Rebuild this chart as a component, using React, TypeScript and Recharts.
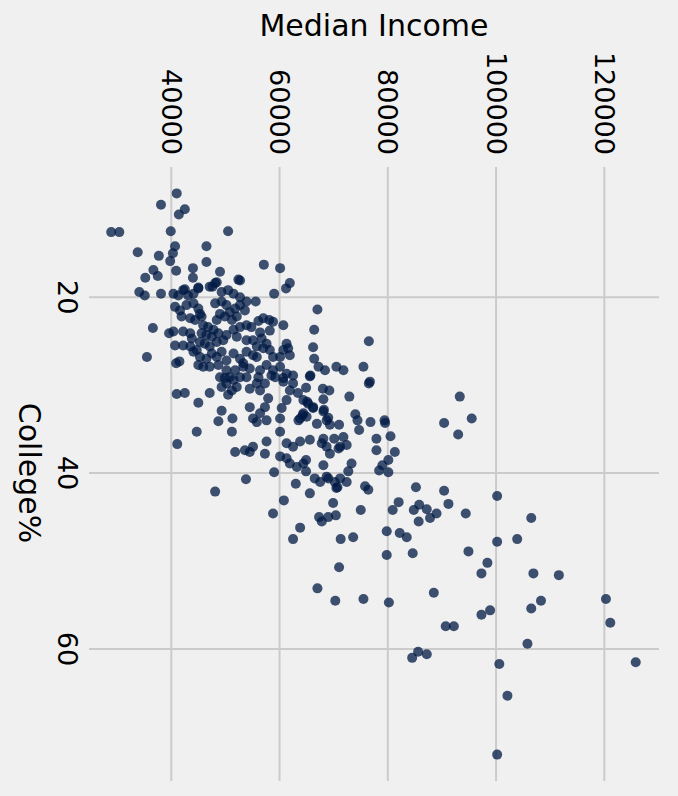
import React from 'react';
import { ScatterChart, Scatter, XAxis, YAxis, CartesianGrid, Label } from 'recharts';

// median household income (dollars)
const income = [
  41000, 38100, 42500, 41400, 28900, 30400, 39900, 50500, 33800, 40700, 46500, 37700, 40300, 39800, 46500,
  40900, 44000, 36700, 37500, 35200, 49000, 44000, 52400, 48400, 47600, 45000, 34100, 35100, 38100, 42500,
  36600, 35500, 39600, 40700, 40900, 41500, 40400, 41300, 42200, 43100, 44100, 45000, 47100, 48100, 49300,
  50500, 51500, 40700, 41600, 42800, 44100, 45000, 45300, 41900, 43500, 44400, 45600, 48100, 49300, 50200,
  50800, 51800, 52700, 53600, 52100, 51200, 49900, 49000, 48400, 45900, 46800, 47800, 45600, 46500, 47500,
  48700, 45300, 46200, 47100, 48400, 49600, 50200, 51500, 52700, 53900, 52100, 40400, 42200, 43500, 43800,
  44700, 45300, 46500, 47500, 48400, 49300, 50200, 51500, 52700, 53900, 55100, 53300, 51800, 50200, 48700,
  47100, 45900, 45000, 50800, 52700, 49000, 54800, 55100, 55800, 42200, 43500, 44100, 57100, 60100, 61900,
  61200, 59000, 52700, 55600, 53900, 52700, 67000, 56100, 57000, 58100, 58800, 60700, 56400, 58200, 66400,
  56700, 57600, 57000, 53900, 55800, 58200, 58800, 61300, 61600, 60700, 61900, 60100, 66200, 66400, 67200,
  68400, 70500, 71800, 53300, 54500, 56400, 57600, 58800, 60100, 61300, 62500, 53900, 56100, 58500, 60700,
  65700, 76500, 75500, 76700, 76500, 65600, 64900, 68000, 69200, 68100, 72900, 65100, 66200, 64300, 63800,
  68200, 69000, 74000, 74400, 76800, 79400, 79500, 66900, 71000, 74700, 93300, 90400, 95500, 93000, 77900,
  80500, 65600, 63800, 68100, 67800, 68700, 70100, 71800, 71200, 69300, 77900, 81300, 64900, 64400, 68100,
  73300, 80100, 79000, 78400, 80100, 64900, 66500, 67500, 69000, 70200, 71200, 72400, 72700, 75800, 76400,
  65600, 85200, 90400, 63000, 70700, 60800, 69900, 75000, 67300, 67800, 69000, 70400, 63800, 62500, 71300,
  73600, 79800, 82200, 83500, 82000, 80900, 79800, 84600, 94900, 71000, 67000, 70300, 75500, 80200, 88500,
  90700, 92200, 100200, 85800, 91200, 84800, 87200, 89000, 87800, 94400, 85700, 106500, 100200, 103900, 98400,
  97300, 106900, 111600, 120300, 108300, 106500, 97300, 98900, 121100, 105800, 85600, 84500, 87200, 100600, 125800,
  102100, 100200, 41000, 42500, 45000, 47100, 49300, 48700, 51300, 44700, 41100, 51200, 49300, 50200, 51200,
  50500, 52100, 51500, 49900, 54500, 55100, 55800, 56400, 57300, 57900, 57600, 54500, 56400, 57300, 55800,
  51800, 53600, 54500, 55100, 57300, 57600, 53800, 48100, 59000, 58800, 60100, 60400, 61300, 61900, 60700,
  59200, 60100, 60100, 61300, 61900, 63200, 61300, 62500, 68700, 70500, 62500, 63400, 64400, 65300, 64400,
  63500, 65000, 66200, 68100, 68700, 69300, 70900, 72400,
];

// share of adults with a college degree (%), same order as income
const college = [
  8.2, 9.5, 10.0, 10.6, 12.6, 12.6, 12.5, 12.5, 14.9, 14.2, 14.2, 15.3, 15.0, 15.9, 16.0,
  17.0, 16.7, 16.9, 17.6, 17.8, 17.1, 17.8, 18.0, 18.3, 18.8, 18.9, 19.4, 19.8, 19.6, 19.1,
  23.5, 26.8, 24.1, 25.5, 27.5, 27.3, 19.6, 19.8, 19.2, 19.8, 19.6, 19.0, 18.8, 18.4, 19.4,
  19.2, 19.6, 21.1, 21.5, 20.9, 20.7, 21.3, 21.9, 22.2, 22.4, 22.6, 22.2, 20.7, 20.5, 20.9,
  21.7, 21.3, 20.9, 21.5, 22.2, 22.6, 22.2, 21.9, 22.6, 23.2, 23.4, 23.7, 24.1, 24.3, 24.5,
  24.1, 25.1, 25.3, 25.6, 25.1, 24.9, 24.3, 23.7, 23.4, 23.2, 24.5, 23.9, 23.9, 24.1, 24.7,
  26.0, 26.8, 27.0, 26.4, 26.8, 26.2, 27.2, 26.4, 27.0, 26.2, 26.6, 27.9, 28.3, 28.3, 27.7,
  27.9, 27.9, 27.7, 29.1, 29.1, 29.1, 23.4, 24.9, 25.6, 25.5, 25.6, 26.2, 16.3, 16.7, 18.4,
  19.0, 19.6, 18.1, 20.5, 20.5, 20.0, 21.4, 22.7, 22.4, 22.6, 22.8, 23.2, 24.0, 23.8, 23.7,
  24.7, 25.3, 25.8, 24.9, 26.8, 26.0, 26.8, 25.3, 25.8, 26.0, 26.6, 26.8, 25.7, 27.0, 27.9,
  28.3, 27.9, 28.3, 27.5, 28.1, 28.3, 27.7, 28.3, 27.9, 28.7, 28.9, 29.1, 29.1, 28.9, 29.2,
  28.9, 25.0, 27.9, 29.6, 29.8, 29.0, 30.3, 30.4, 30.6, 31.6, 31.3, 31.9, 32.6, 33.4, 33.8,
  32.8, 33.7, 33.3, 34.0, 34.2, 34.0, 34.3, 34.4, 34.5, 35.1, 31.3, 34.3, 33.8, 35.6, 36.1,
  35.8, 36.2, 36.4, 36.1, 36.6, 37.0, 36.1, 35.9, 37.0, 37.8, 37.4, 37.6, 38.5, 38.9, 39.1,
  38.9, 38.5, 39.1, 39.7, 39.9, 39.8, 40.6, 41.0, 40.6, 41.0, 40.6, 41.0, 39.8, 41.5, 41.9,
  42.3, 41.6, 42.0, 41.2, 41.6, 43.1, 43.4, 44.2, 45.0, 45.5, 45.0, 44.8, 46.2, 47.5, 47.5,
  47.3, 46.6, 46.8, 47.3, 43.3, 44.2, 49.3, 49.1, 48.9, 50.7, 53.1, 54.5, 54.3, 54.7, 53.6,
  57.4, 57.4, 42.6, 43.6, 43.5, 44.2, 44.1, 44.6, 45.1, 44.6, 45.5, 45.1, 47.8, 47.5, 50.2,
  51.4, 51.4, 51.6, 54.3, 54.5, 55.4, 56.1, 55.6, 57.0, 59.4, 60.3, 61.0, 60.6, 61.7, 61.5,
  65.3, 72.0, 31.0, 30.9, 32.0, 30.9, 32.9, 34.1, 33.8, 35.3, 36.7, 35.3, 30.2, 29.8, 30.6,
  31.1, 30.2, 29.4, 29.2, 32.5, 33.8, 34.2, 33.2, 32.5, 31.5, 34.0, 30.4, 30.6, 29.8, 29.8,
  37.6, 37.4, 37.6, 37.0, 37.8, 36.4, 40.7, 42.1, 39.9, 44.6, 33.8, 32.6, 31.7, 30.6, 29.6,
  29.1, 35.3, 38.1, 38.3, 38.9, 39.3, 36.6, 37.0, 40.4, 41.7, 29.8, 30.9, 31.7, 32.1, 33.2,
  34.0, 33.6, 32.5, 33.0, 34.0, 34.5, 37.2, 36.8,
];

const incomeTicks = [40000, 60000, 80000, 100000, 120000];
const collegeTicks = [20, 40, 60];

const data = income.map((v, i) => ({ income: v, college: college[i] }));

const FONT = '"DejaVu Sans", sans-serif';

const IncomeTick = ({ x, payload }: any) => (
  <text
    x={x}
    y={155}
    transform={`rotate(90 ${x} 155)`}
    textAnchor="end"
    dominantBaseline="central"
    fontSize={27}
    fontFamily={FONT}
    fill="#000"
  >
    {payload.value}
  </text>
);

const CollegeTick = ({ y, payload }: any) => (
  <text
    x={67}
    y={y}
    transform={`rotate(90 67 ${y})`}
    textAnchor="middle"
    dominantBaseline="central"
    fontSize={27}
    fontFamily={FONT}
    fill="#000"
  >
    {payload.value}
  </text>
);

const Dot = (props: any) => (
  <circle cx={props.cx} cy={props.cy} r={5} fill="#001A44" fillOpacity={0.75} />
);

export default function App() {
  return (
    <div style={{ position: 'absolute', left: 0, top: 0, width: 678, height: 796, background: '#f0f0f0' }}>
      <ScatterChart width={678} height={796} margin={{ top: 0, right: 19, bottom: 15, left: 0 }}>
        <CartesianGrid stroke="#cbcbcb" strokeWidth={2} fill="none" syncWithTicks />
        <XAxis
          type="number"
          dataKey="income"
          orientation="top"
          height={167}
          domain={[24800, 130100]}
          ticks={incomeTicks}
          allowDataOverflow
          axisLine={false}
          tickLine={false}
          tick={<IncomeTick />}
        >
          <Label
            content={() => (
              <text x={374} y={25} textAnchor="middle" dominantBaseline="central" fontSize={30} fontFamily={FONT} fill="#000">
                Median Income
              </text>
            )}
          />
        </XAxis>
        <YAxis
          type="number"
          dataKey="college"
          width={89}
          reversed
          domain={[5.2, 75]}
          ticks={collegeTicks}
          allowDataOverflow
          axisLine={false}
          tickLine={false}
          tick={<CollegeTick />}
        >
          <Label
            content={() => (
              <text x={29} y={473} transform="rotate(90 29 473)" textAnchor="middle" dominantBaseline="central" fontSize={30} fontFamily={FONT} fill="#000">
                College%
              </text>
            )}
          />
        </YAxis>
        <Scatter data={data} shape={<Dot />} isAnimationActive={false} />
      </ScatterChart>
    </div>
  );
}
